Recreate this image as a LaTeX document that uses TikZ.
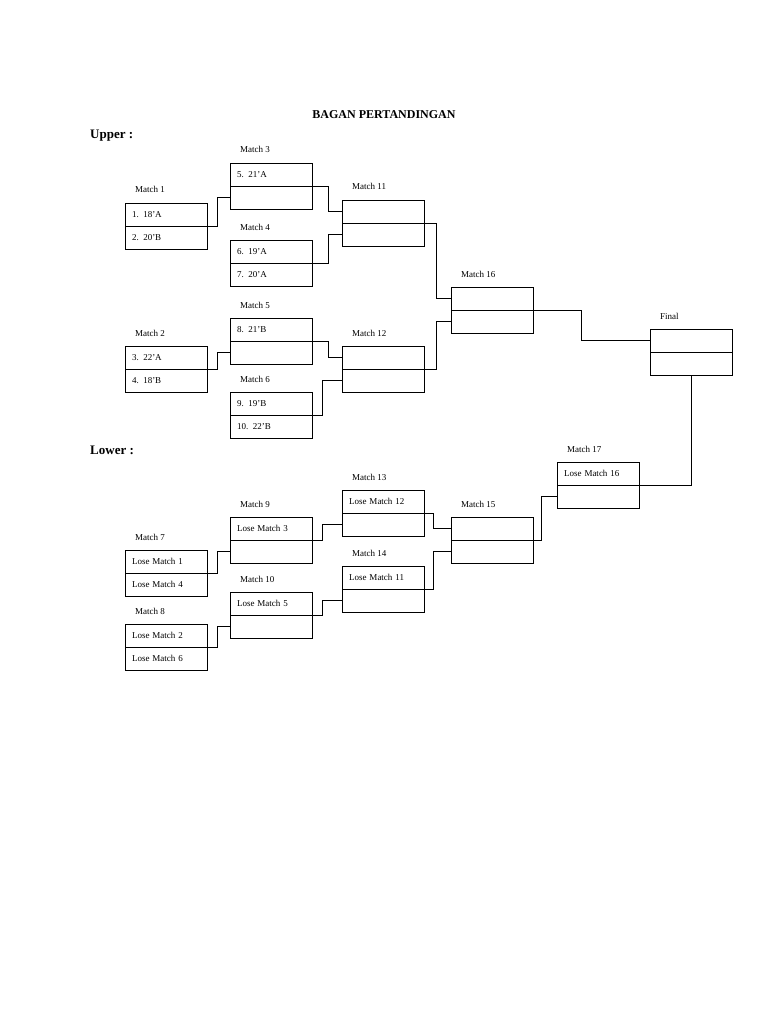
\documentclass[tikz,border=0pt]{standalone}
\usepackage{fontspec}
\setmainfont{Liberation Serif}
\begin{document}
\begin{tikzpicture}[x=1pt,y=-1pt,
  cell/.style={draw,line width=0.8pt,minimum width=82pt,minimum height=23pt,inner sep=0pt,outer sep=0pt,anchor=north west,font=\fontsize{9}{10}\selectfont,text width=68pt,align=left,text depth=0pt},
  lab/.style={font=\fontsize{9}{10}\selectfont,anchor=base west,inner sep=0pt},
  con/.style={line width=0.8pt}]
\useasboundingbox (0,0) rectangle (768,1024);
\newcommand{\matchbx}[6]{%
  \node[cell] (#1a) at (#2,#3) {#5};
  \node[cell] (#1b) at (#2,#3+23) {#6};
  \node[lab] (#1l) at (#2+10,#3-10) {#4};}
\node[font=\bfseries\fontsize{12}{14}\selectfont] (title) at (384,115) {BAGAN PERTANDINGAN};
\node[font=\bfseries\fontsize{13}{15}\selectfont,anchor=base west,inner sep=0pt] (up) at (90,139) {Upper :};
\node[font=\bfseries\fontsize{13}{15}\selectfont,anchor=base west,inner sep=0pt] (lo) at (90,454) {Lower :};
\matchbx{m1}{125}{203}{Match 1}{1. 18’A}{2. 20’B}
\matchbx{m3}{230}{163}{Match 3}{5. 21’A}{}
\matchbx{m4}{230}{240}{Match 4}{6. 19’A}{7. 20’A}
\matchbx{m11}{342}{200}{Match 11}{}{}
\matchbx{m2}{125}{346}{Match 2}{3. 22’A}{4. 18’B}
\matchbx{m5}{230}{318}{Match 5}{8. 21’B}{}
\matchbx{m6}{230}{392}{Match 6}{9. 19’B}{10. 22’B}
\matchbx{m12}{342}{346}{Match 12}{}{}
\matchbx{m16}{451}{287}{Match 16}{}{}
\matchbx{fin}{650}{329}{Final}{}{}
\matchbx{m7}{125}{550}{Match 7}{Lose Match 1}{Lose Match 4}
\matchbx{m8}{125}{624}{Match 8}{Lose Match 2}{Lose Match 6}
\matchbx{m9}{230}{517}{Match 9}{Lose Match 3}{}
\matchbx{m10}{230}{592}{Match 10}{Lose Match 5}{}
\matchbx{m13}{342}{490}{Match 13}{Lose Match 12}{}
\matchbx{m14}{342}{566}{Match 14}{Lose Match 11}{}
\matchbx{m15}{451}{517}{Match 15}{}{}
\matchbx{m17}{557}{462}{Match 17}{Lose Match 16}{}
\draw[con] (m1a.south east) -- ++(10,0) |- (m3b.west);
\draw[con] (m2a.south east) -- ++(10,0) |- (m5b.west);
\draw[con] (m3a.south east) -- ++(16,0) |- (m11a.west);
\draw[con] (m4a.south east) -- ++(16,0) |- (m11b.west);
\draw[con] (m5a.south east) -- ++(16,0) |- (m12a.west);
\draw[con] (m6a.south east) -- ++(10,0) |- (m12b.west);
\draw[con] (m11a.south east) -- ++(12,0) |- (m16a.west);
\draw[con] (m12a.south east) -- ++(12,0) |- (m16b.west);
\draw[con] (m16a.south east) -- ++(48,0) |- (fina.west);
\draw[con] (m7a.south east) -- ++(10,0) |- (m9b.west);
\draw[con] (m8a.south east) -- ++(10,0) |- (m10b.west);
\draw[con] (m9a.south east) -- ++(10,0) |- (m13b.west);
\draw[con] (m10a.south east) -- ++(10,0) |- (m14b.west);
\draw[con] (m13a.south east) -- ++(9,0) |- (m15a.west);
\draw[con] (m14a.south east) -- ++(9,0) |- (m15b.west);
\draw[con] (m15a.south east) -- ++(8,0) |- (m17b.west);
\draw[con] (m17a.south east) -| (finb.south);
\end{tikzpicture}
\end{document}
